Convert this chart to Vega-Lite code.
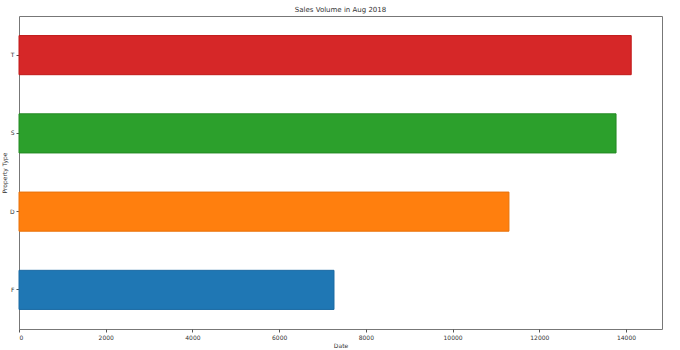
{
  "$schema": "https://vega.github.io/schema/vega-lite/v6.json",
  "autosize": "none",
  "width": 643,
  "height": 313,
  "padding": {"left": 19, "top": 16, "right": 18, "bottom": 21},
  "background": "white",
  "title": {"text": "Sales Volume in Aug 2018", "fontSize": 7, "font": "DejaVu Sans", "fontWeight": "normal", "color": "#333", "offset": 3},
  "config": {"view": {"stroke": "#777", "strokeWidth": 1}},
  "data": {"values": [
    {"type": "F", "sales": 7265},
    {"type": "D", "sales": 11300},
    {"type": "S", "sales": 13770},
    {"type": "T", "sales": 14120}
  ]},
  "mark": {"type": "bar", "strokeWidth": 1},
  "encoding": {
    "y": {"field": "type", "type": "nominal", "sort": ["T", "S", "D", "F"],
      "scale": {"paddingInner": 0.5, "paddingOuter": 0.25},
      "axis": {"title": "Property Type", "titleFontSize": 6, "titleFontWeight": "normal", "titleFont": "DejaVu Sans", "titleColor": "#333", "titlePadding": 2,
        "labelFontSize": 6, "labelFont": "DejaVu Sans", "labelColor": "#333", "tickSize": 3, "tickColor": "#555", "labelPadding": 2, "domain": false}},
    "x": {"field": "sales", "type": "quantitative",
      "scale": {"domain": [0, 14830], "nice": false},
      "axis": {"title": "Date", "titleFontSize": 6, "titleFontWeight": "normal", "titleFont": "DejaVu Sans", "titleColor": "#333", "titlePadding": 2,
        "values": [0, 2000, 4000, 6000, 8000, 10000, 12000, 14000], "format": "d",
        "labelFontSize": 6, "labelFont": "DejaVu Sans", "labelColor": "#333", "tickSize": 3, "tickColor": "#555", "labelPadding": 2, "grid": false, "domain": false}},
    "color": {"field": "type", "type": "nominal", "legend": null,
      "scale": {"domain": ["F", "D", "S", "T"], "range": ["#1f77b4", "#ff7f0e", "#2ca02c", "#d62728"]}},
    "stroke": {"field": "type", "type": "nominal", "legend": null,
      "scale": {"domain": ["F", "D", "S", "T"], "range": ["#1a6aa3", "#e8720a", "#238a23", "#c01818"]}}
  }
}
